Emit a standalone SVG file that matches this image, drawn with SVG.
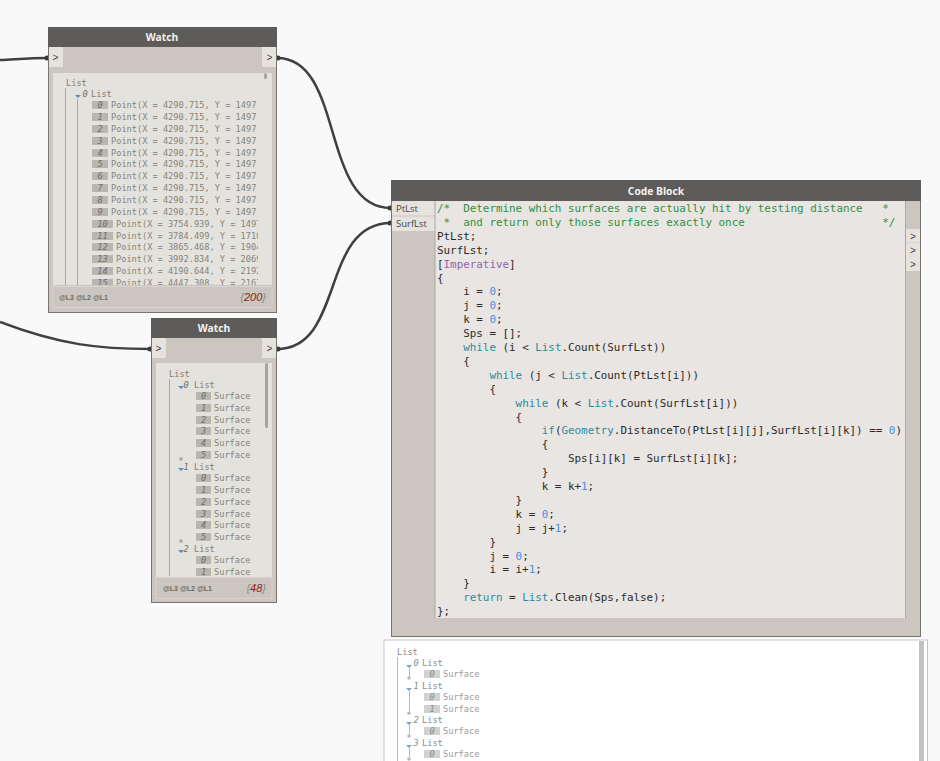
<svg xmlns="http://www.w3.org/2000/svg" width="940" height="761" viewBox="0 0 940 761">
<style>
text{font-family:"DejaVu Sans Mono","Liberation Mono",monospace;white-space:pre}
.frame{fill:#cbc7c0;stroke:#77756c;stroke-width:1}
.hd{fill:#5e5c5a}
.title{font-family:"Open Sans","Liberation Sans",sans-serif;font-size:10.3px;font-weight:700;fill:#f2f2f2;text-anchor:middle}
.port{fill:#e6e3de}
.gt{font-family:"Liberation Sans",sans-serif;font-size:10px;fill:#444;text-anchor:middle}
.body{fill:#e4e2dc}
.foot{fill:#cbc7c0;stroke:#d8d5cf;stroke-width:1}
.t{font-size:8.65px;fill:#85847b}
.lst{font-size:8.65px;fill:#8a7a72}
.idx{font-size:8.65px;fill:#6f6e68;font-style:italic;text-anchor:middle}
.box{fill:#b9b6b0}
.bar{stroke:#a8a69e;stroke-width:1;fill:none}
.arr{fill:#5b8ec4}
.lv{font-family:"Liberation Sans",sans-serif;font-size:7px;font-weight:700;fill:#6b6a64}
.cnt{font-family:"Liberation Sans",sans-serif;font-size:11px;font-style:italic;fill:#8a8880;text-anchor:end}
.cnt tspan{fill:#8e2020}
.code{font-size:10.88px;fill:#2b2b2b}
.c{fill:#2f9140}.n{fill:#4a90e2}.k{fill:#9461b0}.f{fill:#2b8c9e}
.in{font-family:"Open Sans","Liberation Sans",sans-serif;font-size:9.5px;fill:#444}
.wire{fill:none;stroke:#404040;stroke-width:2.5}
.nub{fill:#3a3a3a}
.box2{fill:#d2d2d2}
.idx2{font-size:8.65px;fill:#8a8a8a;font-style:italic;text-anchor:middle}
.t2{font-size:8.65px;fill:#9a9a9a}
.lst2{font-size:8.65px;fill:#8a8a8a}
.bar2{stroke:#b9b9b9;stroke-width:1;fill:none}
</style>
<defs>
<clipPath id="clipA"><rect x="54" y="73" width="204" height="212"/></clipPath>
<clipPath id="clipB"><rect x="157" y="363" width="115" height="214"/></clipPath>
<clipPath id="clipC"><rect x="385" y="641" width="540" height="120"/></clipPath>
</defs>
<rect width="940" height="761" fill="#f9f9f9"/>
<g id="connectors">
<path class="wire" d="M0 60C20 59 30 58 48 58"/>
<path class="wire" d="M277 58C345 58 320 208 391 208"/>
<path class="wire" d="M0 322C60 345 100 349 151 349"/>
<path class="wire" d="M277 349C345 349 320 223 391 223"/>
<circle class="nub" cx="47" cy="58" r="2.500"/><circle class="nub" cx="278" cy="58" r="2.500"/>
<circle class="nub" cx="150" cy="349" r="2.500"/><circle class="nub" cx="278" cy="349" r="2.500"/>
<circle class="nub" cx="390" cy="208" r="2.500"/><circle class="nub" cx="390" cy="223" r="2.500"/>
</g>
<g id="watch1">
<rect class="frame" x="48.500" y="27.500" width="228" height="285"/>
<rect class="hd" x="48" y="27" width="229" height="20"/>
<text class="title" x="162" y="41">Watch</text>
<rect class="port" x="49" y="47" width="14" height="20"/><text class="gt" x="55.500" y="61">&gt;</text>
<rect class="port" x="262" y="47" width="14" height="20"/><text class="gt" x="269.500" y="61">&gt;</text>
<rect class="body" x="53" y="73" width="219" height="212"/>
<rect x="264" y="73" width="3" height="6" rx="1.500" fill="#a5a39c"/>
<path class="bar" d="M65.500 88V285M77.500 99V285"/>
<path class="arr" d="M75 95h6l-3 3z"/>
<g clip-path="url(#clipA)">
<text class="lst" x="66" y="86">List</text>
<text class="idx" x="85" y="97">0</text><text class="lst" x="91" y="97">List</text>
<g id="rows1">
<rect class="box" x="92" y="101" width="16" height="8"/><text class="idx" x="100" y="108">0</text><text class="t" x="111" y="108">Point(X = 4290.715, Y = 1497</text>
<rect class="box" x="92" y="113" width="16" height="8"/><text class="idx" x="100" y="120">1</text><text class="t" x="111" y="120">Point(X = 4290.715, Y = 1497</text>
<rect class="box" x="92" y="125" width="16" height="8"/><text class="idx" x="100" y="132">2</text><text class="t" x="111" y="132">Point(X = 4290.715, Y = 1497</text>
<rect class="box" x="92" y="137" width="16" height="8"/><text class="idx" x="100" y="144">3</text><text class="t" x="111" y="144">Point(X = 4290.715, Y = 1497</text>
<rect class="box" x="92" y="149" width="16" height="8"/><text class="idx" x="100" y="156">4</text><text class="t" x="111" y="156">Point(X = 4290.715, Y = 1497</text>
<rect class="box" x="92" y="160" width="16" height="8"/><text class="idx" x="100" y="167">5</text><text class="t" x="111" y="167">Point(X = 4290.715, Y = 1497</text>
<rect class="box" x="92" y="172" width="16" height="8"/><text class="idx" x="100" y="179">6</text><text class="t" x="111" y="179">Point(X = 4290.715, Y = 1497</text>
<rect class="box" x="92" y="184" width="16" height="8"/><text class="idx" x="100" y="191">7</text><text class="t" x="111" y="191">Point(X = 4290.715, Y = 1497</text>
<rect class="box" x="92" y="196" width="16" height="8"/><text class="idx" x="100" y="203">8</text><text class="t" x="111" y="203">Point(X = 4290.715, Y = 1497</text>
<rect class="box" x="92" y="208" width="16" height="8"/><text class="idx" x="100" y="215">9</text><text class="t" x="111" y="215">Point(X = 4290.715, Y = 1497</text>
<rect class="box" x="92" y="220" width="21" height="8"/><text class="idx" x="102.500" y="227">10</text><text class="t" x="116" y="227">Point(X = 3754.939, Y = 1497</text>
<rect class="box" x="92" y="232" width="21" height="8"/><text class="idx" x="102.500" y="239">11</text><text class="t" x="116" y="239">Point(X = 3784.499, Y = 1710</text>
<rect class="box" x="92" y="243" width="21" height="8"/><text class="idx" x="102.500" y="250">12</text><text class="t" x="116" y="250">Point(X = 3865.468, Y = 1904</text>
<rect class="box" x="92" y="255" width="21" height="8"/><text class="idx" x="102.500" y="262">13</text><text class="t" x="116" y="262">Point(X = 3992.834, Y = 2069</text>
<rect class="box" x="92" y="267" width="21" height="8"/><text class="idx" x="102.500" y="274">14</text><text class="t" x="116" y="274">Point(X = 4190.644, Y = 2192</text>
<rect class="box" x="92" y="279" width="21" height="8"/><text class="idx" x="102.500" y="286">15</text><text class="t" x="116" y="286">Point(X = 4447.308, Y = 2167</text>
</g>
</g>
<rect class="foot" x="53" y="286.500" width="219" height="21"/>
<text class="lv" x="59" y="300">@L3 @L2 @L1</text>
<text class="cnt" x="266" y="301">{<tspan>200</tspan>}</text>
</g>
<g id="watch2">
<rect class="frame" x="151.500" y="318.500" width="125" height="284"/>
<rect class="hd" x="151" y="318" width="126" height="20"/>
<text class="title" x="214" y="332">Watch</text>
<rect class="port" x="152" y="338" width="14" height="20"/><text class="gt" x="158.500" y="352">&gt;</text>
<rect class="port" x="262" y="338" width="14" height="20"/><text class="gt" x="269.500" y="352">&gt;</text>
<rect class="body" x="156" y="363" width="116" height="214"/>
<rect x="265" y="363" width="3" height="65" rx="1.500" fill="#a5a39c"/>
<path class="bar" d="M169.500 379V576"/>
<path class="arr" d="M178 386h6l-3 3zM178 468h6l-3 3zM178 550h6l-3 3z"/>
<circle cx="181" cy="459" r="1.800" fill="#a8a69e"/><circle cx="181" cy="541" r="1.800" fill="#a8a69e"/>
<g clip-path="url(#clipB)">
<text class="lst" x="169" y="377">List</text>
<text class="idx" x="186" y="388">0</text><text class="lst" x="194" y="388">List</text>
<rect class="box" x="196" y="392" width="15" height="8"/><text class="idx" x="203.500" y="399">0</text><text class="t" x="214" y="399">Surface</text>
<rect class="box" x="196" y="404" width="15" height="8"/><text class="idx" x="203.500" y="411">1</text><text class="t" x="214" y="411">Surface</text>
<rect class="box" x="196" y="416" width="15" height="8"/><text class="idx" x="203.500" y="423">2</text><text class="t" x="214" y="423">Surface</text>
<rect class="box" x="196" y="427" width="15" height="8"/><text class="idx" x="203.500" y="434">3</text><text class="t" x="214" y="434">Surface</text>
<rect class="box" x="196" y="439" width="15" height="8"/><text class="idx" x="203.500" y="446">4</text><text class="t" x="214" y="446">Surface</text>
<rect class="box" x="196" y="451" width="15" height="8"/><text class="idx" x="203.500" y="458">5</text><text class="t" x="214" y="458">Surface</text>
<text class="idx" x="186" y="470">1</text><text class="lst" x="194" y="470">List</text>
<rect class="box" x="196" y="474" width="15" height="8"/><text class="idx" x="203.500" y="481">0</text><text class="t" x="214" y="481">Surface</text>
<rect class="box" x="196" y="486" width="15" height="8"/><text class="idx" x="203.500" y="493">1</text><text class="t" x="214" y="493">Surface</text>
<rect class="box" x="196" y="498" width="15" height="8"/><text class="idx" x="203.500" y="505">2</text><text class="t" x="214" y="505">Surface</text>
<rect class="box" x="196" y="510" width="15" height="8"/><text class="idx" x="203.500" y="517">3</text><text class="t" x="214" y="517">Surface</text>
<rect class="box" x="196" y="521" width="15" height="8"/><text class="idx" x="203.500" y="528">4</text><text class="t" x="214" y="528">Surface</text>
<rect class="box" x="196" y="533" width="15" height="8"/><text class="idx" x="203.500" y="540">5</text><text class="t" x="214" y="540">Surface</text>
<text class="idx" x="186" y="552">2</text><text class="lst" x="194" y="552">List</text>
<rect class="box" x="196" y="556" width="15" height="8"/><text class="idx" x="203.500" y="563">0</text><text class="t" x="214" y="563">Surface</text>
<rect class="box" x="196" y="568" width="15" height="8"/><text class="idx" x="203.500" y="575">1</text><text class="t" x="214" y="575">Surface</text>
</g>
<rect class="foot" x="156" y="577.500" width="116" height="21"/>
<text class="lv" x="163" y="591">@L3 @L2 @L1</text>
<text class="cnt" x="266" y="592">{<tspan>48</tspan>}</text>
</g>
<g id="codeblock">
<rect class="frame" x="391.500" y="181.500" width="529" height="455"/>
<rect class="hd" x="391" y="180" width="530" height="21"/>
<text class="title" x="656" y="195">Code Block</text>
<rect class="port" x="392" y="201" width="43" height="14.500"/><text class="in" x="396" y="212">PtLst</text>
<rect class="port" x="392" y="216.500" width="43" height="14.500"/><text class="in" x="396" y="227">SurfLst</text>
<rect x="435" y="201" width="470" height="417" fill="#e8e5e2"/>
<path d="M435 201V618M905.500 201V618" stroke="#aaa79f" fill="none"/>
<rect class="port" x="906" y="229" width="14" height="13.500"/><text class="gt" x="913" y="240">&gt;</text>
<rect class="port" x="906" y="243" width="14" height="14"/><text class="gt" x="913" y="254">&gt;</text>
<rect class="port" x="906" y="257" width="14" height="14"/><text class="gt" x="913" y="268">&gt;</text>
<g id="code">
<text class="code c" x="437" y="212">/*  Determine which surfaces are actually hit by testing distance   *</text>
<text class="code c" x="437" y="225.900"> *  and return only those surfaces exactly once                     */</text>
<text class="code" x="437" y="239.800">PtLst;</text>
<text class="code" x="437" y="253.700">SurfLst;</text>
<text class="code" x="437" y="267.600">[<tspan class="k">Imperative</tspan>]</text>
<text class="code" x="437" y="281.500">{</text>
<text class="code" x="437" y="295.400">    i = <tspan class="n">0</tspan>;</text>
<text class="code" x="437" y="309.300">    j = <tspan class="n">0</tspan>;</text>
<text class="code" x="437" y="323.200">    k = <tspan class="n">0</tspan>;</text>
<text class="code" x="437" y="337.100">    Sps = [];</text>
<text class="code" x="437" y="351">    <tspan class="f">while</tspan> (i &lt; <tspan class="f">List</tspan>.Count(SurfLst))</text>
<text class="code" x="437" y="364.900">    {</text>
<text class="code" x="437" y="378.800">        <tspan class="f">while</tspan> (j &lt; <tspan class="f">List</tspan>.Count(PtLst[i]))</text>
<text class="code" x="437" y="392.700">        {</text>
<text class="code" x="437" y="406.600">            <tspan class="f">while</tspan> (k &lt; <tspan class="f">List</tspan>.Count(SurfLst[i]))</text>
<text class="code" x="437" y="420.500">            {</text>
<text class="code" x="437" y="434.400">                <tspan class="f">if</tspan>(<tspan class="f">Geometry</tspan>.DistanceTo(PtLst[i][j],SurfLst[i][k]) == <tspan class="n">0</tspan>)</text>
<text class="code" x="437" y="448.300">                {</text>
<text class="code" x="437" y="462.200">                    Sps[i][k] = SurfLst[i][k];</text>
<text class="code" x="437" y="476.100">                }</text>
<text class="code" x="437" y="490">                k = k+<tspan class="n">1</tspan>;</text>
<text class="code" x="437" y="503.900">            }</text>
<text class="code" x="437" y="517.800">            k = <tspan class="n">0</tspan>;</text>
<text class="code" x="437" y="531.700">            j = j+<tspan class="n">1</tspan>;</text>
<text class="code" x="437" y="545.600">        }</text>
<text class="code" x="437" y="559.500">        j = <tspan class="n">0</tspan>;</text>
<text class="code" x="437" y="573.400">        i = i+<tspan class="n">1</tspan>;</text>
<text class="code" x="437" y="587.300">    }</text>
<text class="code" x="437" y="601.200">    <tspan class="f">return</tspan> = <tspan class="f">List</tspan>.Clean(Sps,false);</text>
<text class="code" x="437" y="615.100">};</text>
</g>
</g>
<g id="preview">
<rect x="384" y="640" width="543.500" height="122" fill="#fff" stroke="#c6c6c6"/>
<rect x="919" y="641" width="5" height="120" fill="#c2c2c2"/>
<g clip-path="url(#clipC)">
<path class="bar2" d="M397.500 657V761M409.500 668V677M409.500 691V711M409.500 725V734M409.500 748V757"/>
<g fill="#b9b9b9"><circle cx="409" cy="678" r="1.800"/><circle cx="409" cy="713" r="1.800"/><circle cx="409" cy="736" r="1.800"/><circle cx="409" cy="759" r="1.800"/></g>
<path class="arr" d="M406 665h6l-3 3zM406 688h6l-3 3zM406 722h6l-3 3zM406 745h6l-3 3z" opacity=".8"/>
<text class="lst2" x="397" y="655">List</text>
<text class="idx2" x="416" y="666">0</text><text class="lst2" x="422" y="666">List</text>
<rect class="box2" x="424" y="670" width="16" height="8"/><text class="idx2" x="432" y="677">0</text><text class="t2" x="443" y="677">Surface</text>
<text class="idx2" x="416" y="689">1</text><text class="lst2" x="422" y="689">List</text>
<rect class="box2" x="424" y="693" width="16" height="8"/><text class="idx2" x="432" y="700">0</text><text class="t2" x="443" y="700">Surface</text>
<rect class="box2" x="424" y="705" width="16" height="8"/><text class="idx2" x="432" y="712">1</text><text class="t2" x="443" y="712">Surface</text>
<text class="idx2" x="416" y="723">2</text><text class="lst2" x="422" y="723">List</text>
<rect class="box2" x="424" y="727" width="16" height="8"/><text class="idx2" x="432" y="734">0</text><text class="t2" x="443" y="734">Surface</text>
<text class="idx2" x="416" y="746">3</text><text class="lst2" x="422" y="746">List</text>
<rect class="box2" x="424" y="750" width="16" height="8"/><text class="idx2" x="432" y="757">0</text><text class="t2" x="443" y="757">Surface</text>
</g>
</g>
</svg>
